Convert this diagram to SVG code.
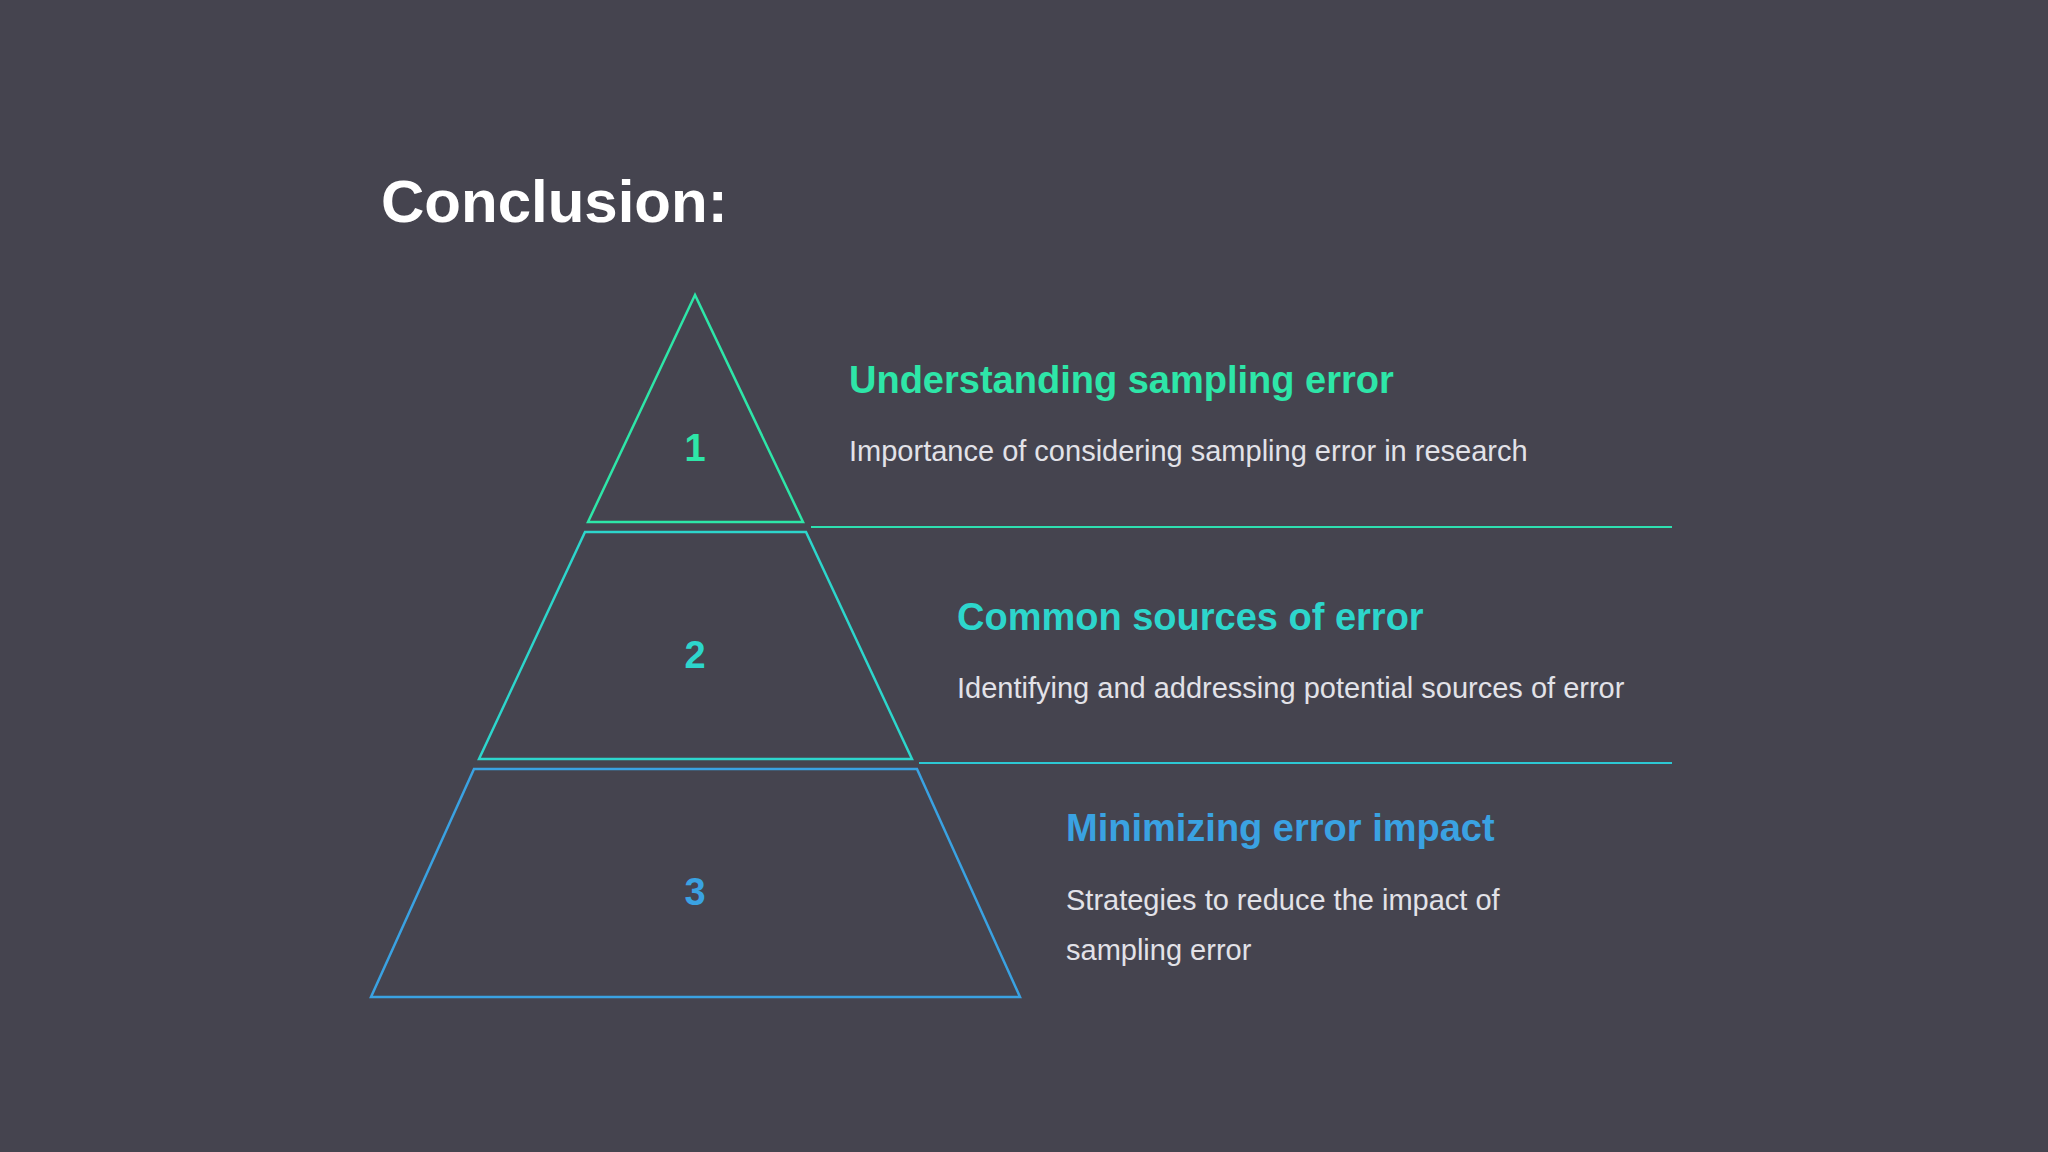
<svg xmlns="http://www.w3.org/2000/svg" width="2048" height="1152" viewBox="0 0 2048 1152">
<style>
text{font-family:"Liberation Sans",Arial,sans-serif}
.h{font-weight:bold;font-size:38px}
.s{font-size:29px;fill:#e2e2e8}
.n{font-weight:bold;font-size:38px;text-anchor:middle}
.sh{fill:none;stroke-width:2.5}
</style>
<rect width="2048" height="1152" fill="#45444f"/>
<text x="381" y="222" font-size="60" font-weight="bold" fill="#ffffff">Conclusion:</text>
<g id="tier1">
<polygon class="sh" stroke="#2ee6a8" points="695,295 588,522 803,522"/>
<text class="n" x="695" y="461" fill="#2ee6a8">1</text>
<text class="h" x="849" y="393" fill="#2ee6a8">Understanding sampling error</text>
<text class="s" x="849" y="461">Importance of considering sampling error in research</text>
</g>
<g id="tier2">
<polygon class="sh" stroke="#2dd6cc" points="585,532 806,532 912,759 479,759"/>
<text class="n" x="695" y="668" fill="#2dd6cc">2</text>
<text class="h" x="957" y="630" fill="#2dd6cc">Common sources of error</text>
<text class="s" x="957" y="698">Identifying and addressing potential sources of error</text>
</g>
<g id="tier3">
<polygon class="sh" stroke="#3aa2e2" points="474,769 917,769 1020,997 371,997"/>
<text class="n" x="695" y="905" fill="#3aa2e2">3</text>
<text class="h" x="1066" y="841" fill="#3aa2e2">Minimizing error impact</text>
<text class="s" x="1066" y="910">Strategies to reduce the impact of</text>
<text class="s" x="1066" y="960">sampling error</text>
</g>
<g id="connectors">
<line x1="811" y1="527" x2="1672" y2="527" stroke="#2ee0b0" stroke-width="2"/>
<line x1="919" y1="763" x2="1672" y2="763" stroke="#2dc8d4" stroke-width="2"/>
</g>
</svg>
